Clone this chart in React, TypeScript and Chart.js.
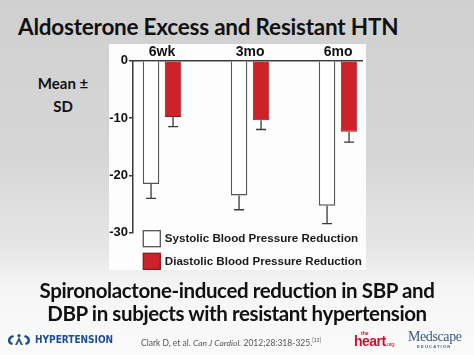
import React, { useEffect, useRef } from "react";
import { Chart, registerables } from "chart.js";

Chart.register(...registerables);

// ---- data ----
const periods = ["6wk", "3mo", "6mo"];
const periodPositions = [1, 2, 3];
const sbpReduction = [-21.5, -23.5, -25.3];
const sbpSd = [2.5, 2.5, 3.1];
const dbpReduction = [-9.8, -10.4, -12.4];
const dbpSd = [1.7, 1.6, 1.8];
const yTicks = [0, -10, -20, -30];
const seriesLabels = [
  "Systolic Blood Pressure Reduction",
  "Diastolic Blood Pressure Reduction",
];

const AX_FONT = "'Liberation Sans', Arial, sans-serif";
const Y_W = 30;
const X_H = 20;

const errorBarPlugin = {
  id: "errorBars",
  afterDatasetsDraw(chart: any) {
    const ctx = chart.ctx;
    const yScale = chart.scales.y;
    chart.data.datasets.forEach((ds: any, i: number) => {
      const meta = chart.getDatasetMeta(i);
      const errs: number[] = ds.errorBars || [];
      meta.data.forEach((el: any, j: number) => {
        const v = ds.data[j].y;
        const e = errs[j];
        if (e == null) return;
        const yEnd = yScale.getPixelForValue(v - e);
        ctx.save();
        ctx.strokeStyle = "#3a3a3a";
        ctx.lineWidth = 1.3;
        ctx.beginPath();
        ctx.moveTo(el.x, el.y);
        ctx.lineTo(el.x, yEnd);
        ctx.moveTo(el.x - 5, yEnd);
        ctx.lineTo(el.x + 5, yEnd);
        ctx.stroke();
        ctx.restore();
      });
    });
  },
};

const insideLegendPlugin = {
  id: "insideLegend",
  afterDraw(chart: any) {
    const ctx = chart.ctx;
    const area = chart.chartArea;
    const boxW = 17;
    const boxH = 16;
    const step = 22.6;
    const x0 = area.left + 10.3;
    const y0 = area.bottom - 2;
    chart.data.datasets.forEach((ds: any, i: number) => {
      const top = y0 + i * step;
      ctx.save();
      ctx.fillStyle = ds.backgroundColor;
      ctx.fillRect(x0, top, boxW, boxH);
      ctx.strokeStyle = ds.borderColor;
      ctx.lineWidth = 1.3;
      ctx.strokeRect(x0, top, boxW, boxH);
      ctx.fillStyle = "#1a1a1a";
      ctx.font = `bold 11.6px ${AX_FONT}`;
      ctx.textBaseline = "middle";
      ctx.textAlign = "left";
      ctx.fillText(ds.label, x0 + boxW + 4.5, top + boxH / 2 + 0.5);
      ctx.restore();
    });
  },
};

function BarChart() {
  const ref = useRef<HTMLCanvasElement | null>(null);
  useEffect(() => {
    if (!ref.current) return;
    const chart = new Chart(ref.current, {
      type: "bar",
      data: {
        datasets: [
          {
            label: seriesLabels[0],
            data: periodPositions.map((x, i) => ({ x, y: sbpReduction[i] })),
            backgroundColor: "#ffffff",
            borderColor: "#555555",
            borderWidth: 1.4,
            barPercentage: 0.75,
            categoryPercentage: 0.5,
            errorBars: sbpSd,
          } as any,
          {
            label: seriesLabels[1],
            data: periodPositions.map((x, i) => ({ x, y: dbpReduction[i] })),
            backgroundColor: "#cd2229",
            borderColor: "#8a1a1e",
            borderWidth: 1,
            barPercentage: 0.75,
            categoryPercentage: 0.5,
            errorBars: dbpSd,
          } as any,
        ],
      },
      options: {
        responsive: false,
        animation: false,
        layout: {
          padding: {
            left: 133 - Y_W,
            top: 60.7 - X_H,
            right: 474 - 362,
            bottom: 355 - 232.7,
          },
        },
        plugins: {
          legend: { display: false },
          tooltip: { enabled: false },
        },
        scales: {
          x: {
            type: "linear",
            position: "top",
            offset: false,
            min: 0.67,
            max: 3.272,
            grid: { display: false, drawTicks: false, offset: false },
            border: { display: true, color: "#3a3a3a", width: 1.5 },
            ticks: {
              stepSize: 1,
              includeBounds: false,
              autoSkip: false,
              maxRotation: 0,
              padding: 0,
              color: "#111111",
              font: { family: AX_FONT, size: 14, weight: "bold" },
              callback: (v: any) => {
                const k = periodPositions.indexOf(Number(v));
                return k >= 0 ? periods[k] : "";
              },
            },
            afterFit: (s: any) => {
              s.height = X_H;
            },
          } as any,
          y: {
            min: -30,
            max: 0,
            grid: {
              drawOnChartArea: false,
              drawTicks: true,
              tickLength: 4,
              color: "#3a3a3a",
              lineWidth: 1.5,
            },
            border: { display: true, color: "#3a3a3a", width: 1.5 },
            ticks: {
              padding: 1,
              color: "#111111",
              font: { family: AX_FONT, size: 13, weight: "bold" },
            },
            afterBuildTicks: (s: any) => {
              s.ticks = yTicks.map((v) => ({ value: v }));
            },
            afterFit: (s: any) => {
              s.width = Y_W;
            },
          } as any,
        },
      },
      plugins: [errorBarPlugin, insideLegendPlugin],
    });
    return () => chart.destroy();
  }, []);
  return (
    <canvas
      ref={ref}
      width={474}
      height={355}
      style={{ position: "absolute", left: 0, top: 0, width: 474, height: 355 }}
    />
  );
}

export default function App() {
  const lato = "Lato, 'Open Sans', sans-serif";
  return (
    <div
      style={{
        position: "fixed",
        left: 0,
        top: 0,
        width: 474,
        height: 355,
        overflow: "hidden",
        background:
          "linear-gradient(to bottom, #d0d0d0 0%, #d6d6d6 45%, #e6e6e6 70%, #f6f6f6 82%, #fafafa 100%)",
      }}
    >
      <div
        style={{
          position: "absolute",
          left: 109,
          top: 44,
          width: 257,
          height: 226,
          background: "#fdfdfd",
        }}
      />
      <div
        style={{
          position: "absolute",
          left: 18,
          top: 13.2,
          fontFamily: lato,
          fontWeight: 700,
          fontSize: 22.5,
          letterSpacing: -0.22,
          lineHeight: "28px",
          color: "#111",
          whiteSpace: "nowrap",
        }}
      >
        Aldosterone Excess and Resistant HTN
      </div>
      <div
        style={{
          position: "absolute",
          left: 23,
          top: 72,
          width: 80,
          textAlign: "center",
          fontFamily: lato,
          fontWeight: 700,
          fontSize: 15,
          lineHeight: "23px",
          color: "#111",
        }}
      >
        Mean ±
        <br />
        SD
      </div>
      <BarChart />
      <div
        style={{
          position: "absolute",
          left: 0,
          top: 278.6,
          width: 474,
          textAlign: "center",
          fontFamily: lato,
          fontWeight: 700,
          fontSize: 20.5,
          letterSpacing: -0.4,
          lineHeight: "23.5px",
          color: "#111",
        }}
      >
        Spironolactone-induced reduction in SBP and
        <br />
        DBP in subjects with resistant hypertension
      </div>
      <svg
        width="30"
        height="14"
        viewBox="0 0 30 14"
        style={{ position: "absolute", left: 4, top: 333 }}
      >
        <path d="M9 2 C3 3, 2 11, 8 12 L9 10 C5 9, 6 5, 10 4 Z" fill="#1d4e8f" />
        <path d="M21 2 C27 3, 28 11, 22 12 L21 10 C25 9, 24 5, 20 4 Z" fill="#1d4e8f" />
        <path d="M15 4 L11 12 H13 L15 8 L17 12 H19 Z" fill="#1d4e8f" />
        <circle cx="15" cy="2.6" r="1.6" fill="#1d4e8f" />
      </svg>
      <div
        style={{
          position: "absolute",
          left: 35,
          top: 333,
          fontFamily: "'Liberation Sans Narrow', 'DejaVu Sans Condensed', sans-serif",
          fontWeight: 700,
          fontSize: 10,
          lineHeight: "14px",
          color: "#1d4e8f",
          whiteSpace: "nowrap",
        }}
      >
        HYPERTENSION
      </div>
      <div
        style={{
          position: "absolute",
          left: 141,
          top: 334,
          fontFamily: lato,
          fontSize: 8.5,
          lineHeight: "12px",
          color: "#555",
          whiteSpace: "nowrap",
        }}
      >
        Clark D, et al. <i>Can J Cardiol.</i> 2012;28:318-325.
        <sup style={{ fontSize: 5 }}>[13]</sup>
      </div>
      <div
        style={{
          position: "absolute",
          left: 354,
          top: 330,
          width: 50,
          height: 20,
          whiteSpace: "nowrap",
        }}
      >
        <span
          style={{
            position: "absolute",
            left: 7,
            top: 0,
            fontFamily: "'Liberation Sans', Arial, sans-serif",
            fontWeight: 700,
            fontSize: 5,
            color: "#c8102e",
          }}
        >
          the
        </span>
        <span
          style={{
            position: "absolute",
            left: 0,
            top: 3,
            fontFamily: "'Liberation Sans', Arial, sans-serif",
            fontWeight: 700,
            fontSize: 14,
            lineHeight: "16px",
            color: "#c8102e",
            letterSpacing: -0.5,
          }}
        >
          heart
          <span style={{ fontSize: 6, fontWeight: 400, color: "#c8102e" }}>.org</span>
        </span>
      </div>
      <div
        style={{
          position: "absolute",
          left: 408,
          top: 329,
          fontFamily: "'Liberation Serif', 'DejaVu Serif', serif",
          fontSize: 14,
          lineHeight: "16px",
          color: "#3d5a86",
          whiteSpace: "nowrap",
          letterSpacing: -0.4,
        }}
      >
        Medscape
      </div>
      <div
        style={{
          position: "absolute",
          left: 417,
          top: 344,
          fontFamily: "'Liberation Sans', Arial, sans-serif",
          fontWeight: 700,
          fontSize: 4,
          lineHeight: "5px",
          color: "#3d5a86",
          letterSpacing: 1.2,
          whiteSpace: "nowrap",
        }}
      >
        EDUCATION
      </div>
    </div>
  );
}
